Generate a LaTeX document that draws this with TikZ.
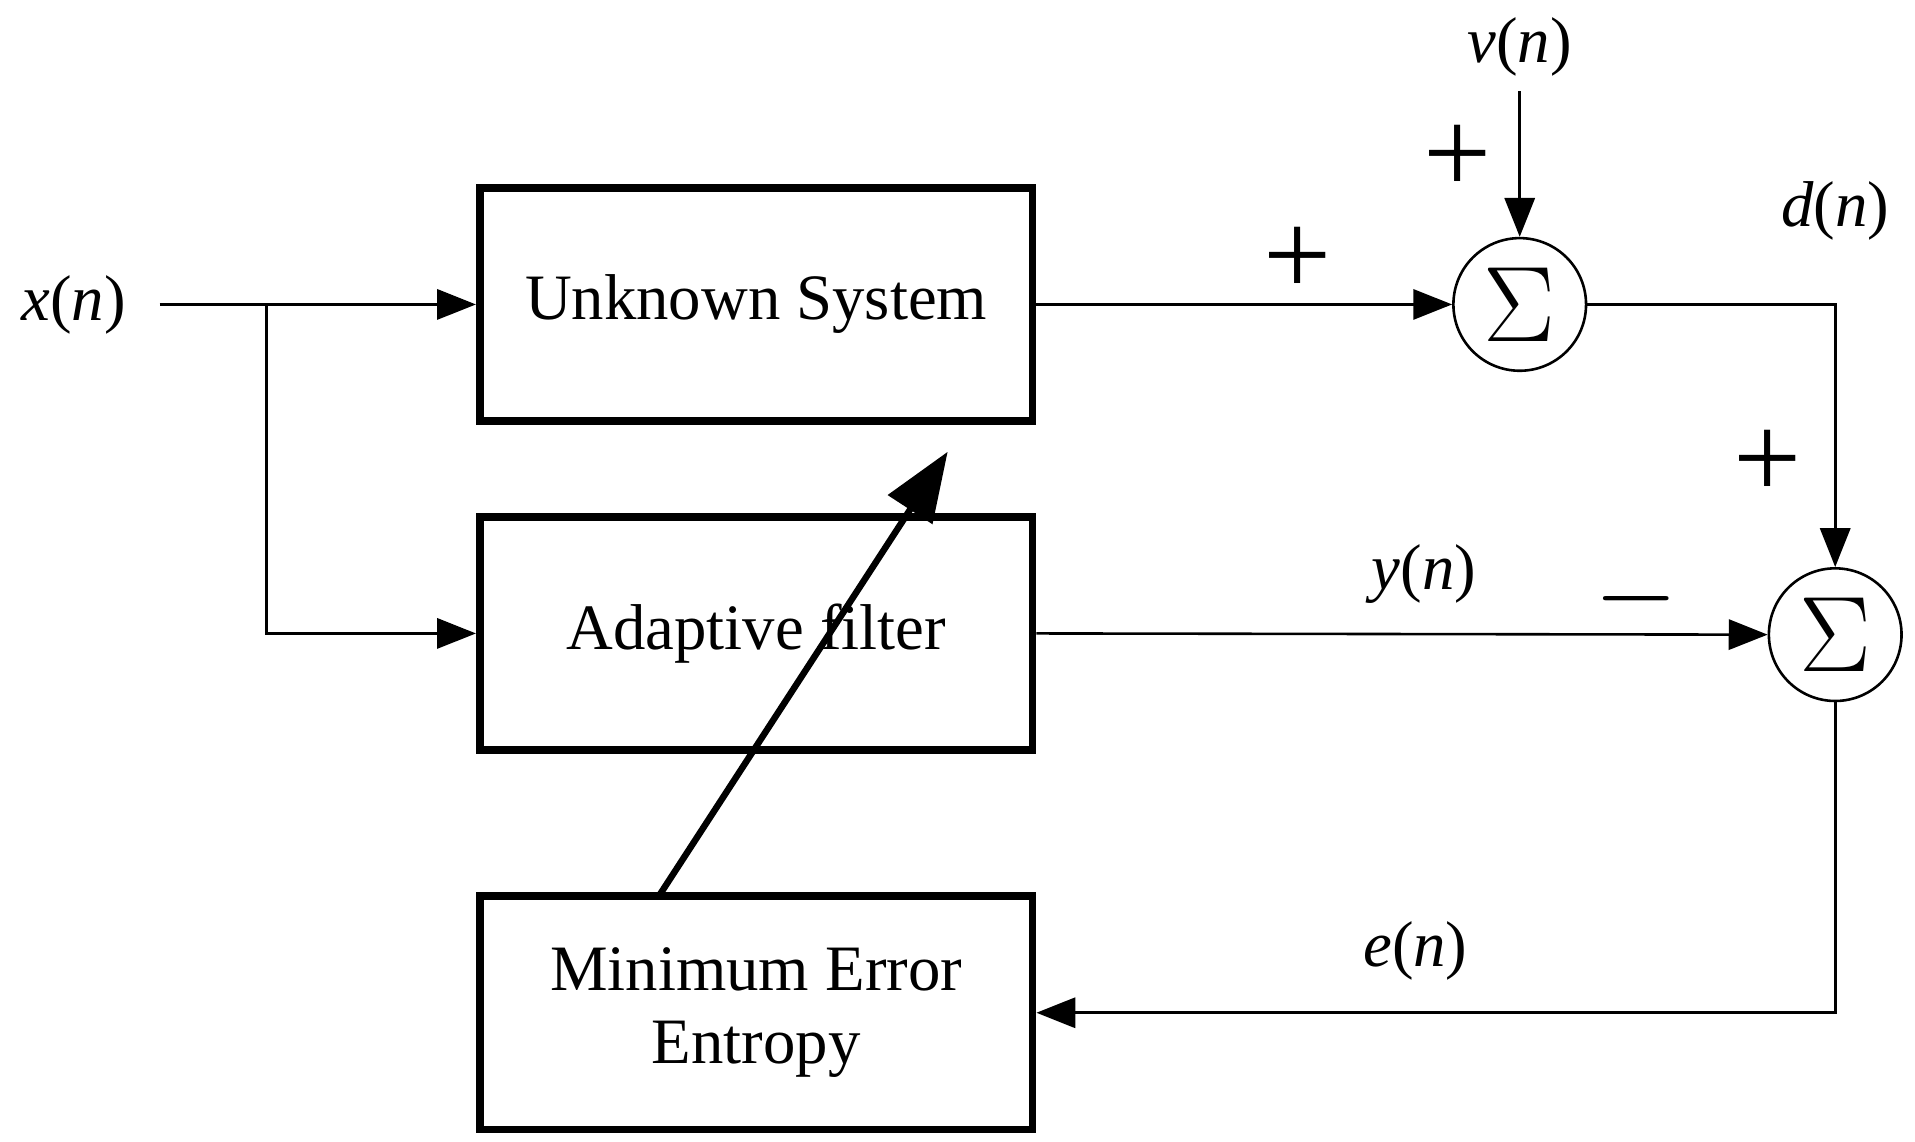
\documentclass[tikz,border=0pt]{standalone}
\usepackage{fontspec}
\setmainfont{Liberation Serif}
\usetikzlibrary{arrows.meta}
\begin{document}
\begin{tikzpicture}[x=0.01cm,y=-0.01cm,
  blk/.style={draw,line width=1.8pt,minimum width=4.5cm,minimum height=1.9cm,font=\fontsize{15}{18}\selectfont,align=center},
  sum/.style={draw,circle,line width=0.6pt,minimum size=1.08cm,inner sep=0pt,font=\fontsize{36}{36}\selectfont},
  con/.style={line width=0.6pt,-{Triangle[length=9pt,width=7pt]}},
  lbl/.style={font=\fontsize{15}{18}\selectfont},
  sgn/.style={font=\fontsize{28}{28}\selectfont}]
\useasboundingbox (0,0) rectangle (1560,930);
\node[blk] (us) at (616,248) {Unknown System};
\node[blk] (af) at (616,516) {Adaptive filter};
\node[blk] (mee) at (616,825) {Minimum Error\\[-1pt]Entropy};
\node[sum] (s1) at (1238,248) {$\Sigma$};
\node[sum] (s2) at (1495,517) {$\Sigma$};
\node[lbl] (x) at (60,248) {\textit{x}(\textit{n})};
\node[lbl] (v) at (1238,38) {\textit{v}(\textit{n})};
\node[lbl] at (1495,172) {\textit{d}(\textit{n})};
\node[lbl] at (1160,468) {\textit{y}(\textit{n})};
\node[lbl] at (1153,775) {\textit{e}(\textit{n})};
\node[sgn] at (1057,213) {+};
\node[sgn] at (1187,130) {+};
\node[sgn] at (1440,378) {+};
\node[sgn] at (1333,488) {$-$};
\coordinate (b) at (217,248);
\draw[con] (130,248) -- (us.west);
\draw[con] (b) |- (af.west);
\draw[con] (us.east) -- (s1.west);
\draw[con] (v.south) -- (s1.north);
\draw[con] (s1.east) -| (s2.north);
\draw[con] (af.east) -- (s2.west);
\draw[con] (s2.south) |- (mee.east);
\coordinate (tip) at (772,368);
\draw[line width=1.5pt,-{Triangle[length=16pt,width=12pt]}] (538,728) -- (tip);
\end{tikzpicture}
\end{document}
